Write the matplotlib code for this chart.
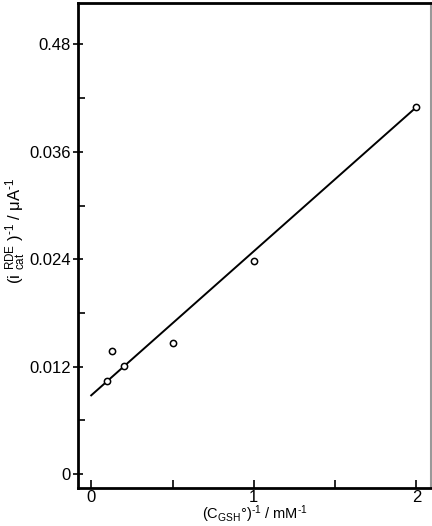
import numpy as np
import matplotlib.pyplot as plt
from matplotlib.ticker import FixedLocator

plt.rcParams['font.family'] = ['Liberation Sans', 'DejaVu Sans']
plt.rcParams['mathtext.fontset'] = 'custom'
plt.rcParams['mathtext.rm'] = 'Liberation Sans'
plt.rcParams['mathtext.it'] = 'Liberation Sans'

# inverse GSH concentration (mM^-1) and inverse catalytic current (uA^-1)
inv_conc = [0.1, 0.125, 0.2, 0.5, 1.0, 2.0]
inv_icat = [0.0104, 0.0137, 0.0121, 0.0147, 0.0238, 0.0410]

# fitted line
fit_x = [0.0, 2.0]
fit_y = [0.0088, 0.0410]

y_ticks = [0, 0.012, 0.024, 0.036, 0.048]
y_ticklabels = ["0", "0.012", "0.024", "0.036", "0.48"]
x_ticks = [0, 1, 2]
x_ticklabels = ["0", "1", "2"]

fig = plt.figure(figsize=(4.32, 5.26), dpi=100)
ax = fig.add_axes([0.181, 0.072, 0.817, 0.922])

ax.plot(fit_x, fit_y, color='black', lw=1.4)
ax.plot(inv_conc, inv_icat, 'o', mfc='white', mec='black', ms=4.5, mew=1.1)

ax.set_xlim(-0.08, 2.09)
ax.set_ylim(-0.00156, 0.0526)

ax.set_yticks(y_ticks)
ax.set_yticklabels(y_ticklabels)
ax.set_xticks(x_ticks)
ax.set_xticklabels(x_ticklabels)
ax.yaxis.set_minor_locator(FixedLocator([0.006, 0.018, 0.030, 0.042]))
ax.xaxis.set_minor_locator(FixedLocator([0.5, 1.5]))

ax.tick_params(axis='y', which='major', direction='inout', length=7, width=1.2, labelsize=12, pad=2)
ax.tick_params(axis='y', which='minor', direction='in', length=5, width=1.2)
ax.tick_params(axis='x', which='major', direction='in', length=6, width=1.2, labelsize=12, pad=1)
ax.tick_params(axis='x', which='minor', direction='in', length=6, width=1.2)

for s in ['left', 'bottom', 'top']:
    ax.spines[s].set_linewidth(2)
ax.spines['right'].set_linewidth(1.5)
ax.spines['right'].set_color('#999999')

ax.set_xlabel(r'$(\mathrm{C_{GSH}}$°$)^{\mathrm{‐1}}$ / mM$^{\mathrm{‐1}}$', fontsize=10.5, labelpad=-1)
ax.set_ylabel(r'$(\mathrm{i\ _{cat}^{RDE}\ })^{\mathrm{‐1}}$ / μA$^{\mathrm{‐1}}$', fontsize=12, labelpad=1)
ax.yaxis.label.set_y(0.53)

fig.savefig('out.png', dpi=100)
